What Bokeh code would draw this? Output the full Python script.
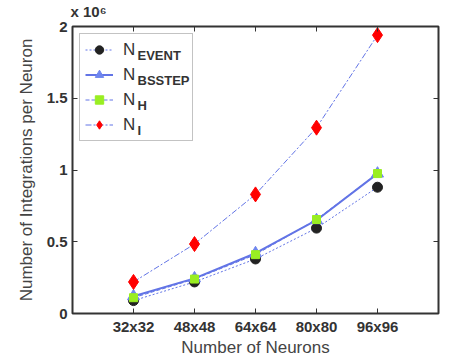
from bokeh.plotting import figure
from bokeh.models import (Range1d, FixedTicker, LinearAxis, Legend, LegendItem, Label, Title)
from bokeh.embed import file_html
from bokeh.resources import INLINE

categories = ["32x32", "48x48", "64x64", "80x80", "96x96"]
n_event = [0.09e6, 0.22e6, 0.38e6, 0.595e6, 0.88e6]
n_bsstep = [0.12e6, 0.245e6, 0.42e6, 0.65e6, 0.975e6]
n_h = [0.11e6, 0.24e6, 0.41e6, 0.655e6, 0.975e6]
n_i = [0.22e6, 0.484e6, 0.83e6, 1.295e6, 1.94e6]
y_ticks = [0, 0.5e6, 1.0e6, 1.5e6, 2.0e6]
y_tick_labels = ["0", "0.5", "1", "1.5", "2"]
legend_subs = ["EVENT", "BSSTEP", "H", "I"]

xs = list(range(1, len(categories) + 1))
FONT = "Liberation Sans"
TXT = "#333333"
BLUE = "#6274e6"

p = figure(frame_width=366, frame_height=287, output_backend="svg", toolbar_location=None,
           x_range=Range1d(0, len(categories) + 1), y_range=Range1d(0, 2.0e6),
           min_border_left=0, min_border_right=10, min_border_top=0, min_border_bottom=0)
p.background_fill_color = "white"
p.border_fill_color = "white"
p.outline_line_color = "#333333"
p.outline_line_width = 2
p.xgrid.visible = False
p.ygrid.visible = False

p.title.text = "x 10\u2076"
p.title.align = "left"
p.title.text_font = FONT
p.title.text_font_size = "15px"
p.title.text_font_style = "bold"
p.title.text_color = TXT
p.title.standoff = 0
p.title.offset = -2

xt = FixedTicker(ticks=xs)
yt = FixedTicker(ticks=y_ticks)
p.xaxis.ticker = xt
p.yaxis.ticker = yt
p.xaxis.major_label_overrides = {x: c for x, c in zip(xs, categories)}
p.yaxis.major_label_overrides = {t: l for t, l in zip(y_ticks, y_tick_labels)}

def style(ax, labels=True):
    ax.axis_line_color = None
    ax.major_tick_in = 5
    ax.major_tick_out = 0
    ax.minor_tick_line_color = None
    ax.major_tick_line_color = "#333333"
    ax.major_label_text_font = FONT
    ax.major_label_text_font_style = "bold"
    ax.major_label_text_font_size = "15px"
    ax.major_label_text_color = TXT
    ax.axis_label_text_font = FONT
    ax.axis_label_text_font_style = "normal"
    ax.axis_label_text_font_size = "17px"
    ax.axis_label_text_color = "#444444"
    if not labels:
        ax.major_label_text_alpha = 0
        ax.major_label_text_font_size = "1px"
        ax.major_label_standoff = 0

for ax in p.xaxis:
    style(ax)
    ax.major_label_standoff = 4
    ax.axis_label_standoff = 0
for ax in p.yaxis:
    style(ax)
    ax.major_label_standoff = 5
    ax.axis_label_standoff = 8
p.xaxis.axis_label = "Number of Neurons"
p.yaxis.axis_label = "Number of Integrations per Neuron"

top = LinearAxis(ticker=xt)
style(top, labels=False)
p.add_layout(top, "above")
right = LinearAxis(ticker=FixedTicker(ticks=y_ticks))
style(right, labels=False)
p.add_layout(right, "right")

# spacers
p.add_layout(Title(text=" ", text_font_size="4px", standoff=0), "above")
p.add_layout(Title(text=" ", text_font_size="10px", standoff=0), "left")

l1 = p.line(xs, n_event, line_color=BLUE, line_width=1, line_dash="2 2")
m1 = p.scatter(xs, n_event, marker="circle", size=10, fill_color="#222222", line_color="#222222")
l2 = p.line(xs, n_bsstep, line_color=BLUE, line_width=2)
m2 = p.scatter(xs, n_bsstep, marker="triangle", size=12, fill_color="#6f86ee", line_color="#6f86ee")
l3 = p.line(xs, n_h, line_color=BLUE, line_width=1, line_dash="4 2")
m3 = p.scatter(xs, n_h, marker="square", size=8, fill_color="#99ee22", line_color="#99ee22")
l4 = p.line(xs, n_i, line_color=BLUE, line_width=1, line_dash="6 2 2 2")
m4 = p.scatter(xs, n_i, marker="diamond", size=15, fill_color="#ff0000", line_color="#ff0000")

legend = Legend(items=[LegendItem(label="N", renderers=[l1, m1]),
                       LegendItem(label="N", renderers=[l2, m2]),
                       LegendItem(label="N", renderers=[l3, m3]),
                       LegendItem(label="N", renderers=[l4, m4])],
                location="top_left", margin=7, padding=5, spacing=4,
                glyph_height=21, glyph_width=28, label_height=21, label_width=64,
                label_standoff=10, border_line_color="#888888", border_line_width=1,
                label_text_font=FONT, label_text_font_size="17px", label_text_color=TXT,
                background_fill_alpha=0.0)
p.add_layout(legend)

for i, s in enumerate(legend_subs):
    p.add_layout(Label(x=0, y=2.0e6, x_offset=65, y_offset=-(29 + 25 * i),
                       text=s, text_font=FONT, text_font_size="13px", text_font_style="bold",
                       text_color=TXT, text_baseline="middle", level="overlay"))

open("out.html", "w").write(file_html(p, INLINE))
